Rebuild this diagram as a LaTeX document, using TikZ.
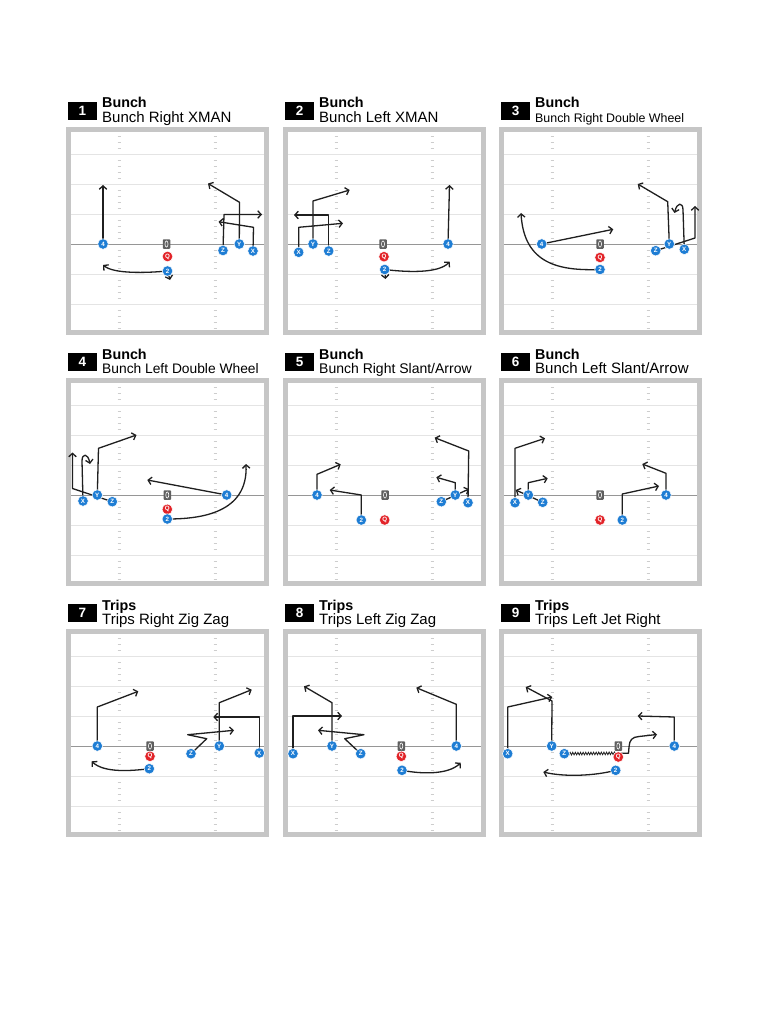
\documentclass[tikz,border=0pt]{standalone}
\usepackage{fontspec}
\setmainfont{Liberation Sans}
\usetikzlibrary{arrows.meta,decorations.pathmorphing}
\definecolor{pblue}{RGB}{30,125,212}
\definecolor{pred}{RGB}{226,35,40}
\definecolor{framegray}{RGB}{198,198,198}
\definecolor{yardgray}{RGB}{228,228,228}
\definecolor{losgray}{RGB}{150,150,150}
\definecolor{hashgray}{RGB}{205,205,205}
\definecolor{ballgray}{RGB}{95,95,95}
\pgfdeclarelayer{bg}\pgfdeclarelayer{rt}\pgfsetlayers{bg,rt,main}
\tikzset{
 pl/.style={circle, fill=pblue, draw=white, line width=0.5pt, inner sep=0pt, minimum size=10.5pt, text=white, font=\fontsize{6.2}{6.2}\selectfont\bfseries},
 qb/.style={pl, fill=pred},
 ball/.style={rectangle, rounded corners=0.8pt, fill=ballgray, minimum width=7.5pt, minimum height=9.5pt, inner sep=0pt, path picture={\draw[white,line width=0.6pt] (path picture bounding box.center) ellipse (1.5pt and 3.1pt);}},
 route/.style={draw=black!88, line width=1.3pt, line join=round, -{Straight Barb[length=3.4pt,width=7.5pt]}},
 motion/.style={draw=black!88, line width=0.8pt, decorate, decoration={zigzag, amplitude=1.3pt, segment length=2.6pt}},
 numbox/.style={fill=black, minimum width=29pt, minimum height=18.5pt, inner sep=0pt, text=white, font=\fontsize{13.5}{13.5}\selectfont\bfseries},
 ttl/.style={anchor=base west, inner sep=0pt, font=\fontsize{14.3}{14.3}\selectfont\bfseries},
 sub/.style={anchor=base west, inner sep=0pt},
}
\newcommand\fieldpanel[7]{%
 \begin{pgfonlayer}{bg}
 \begin{scope}[shift={(#1,#2)}]
  \fill[white] (0,-117) rectangle (203,91);
  \foreach \yy in {-90,-60,-30,30,60}{\draw[yardgray,line width=0.8pt] (5,\yy) -- (198,\yy);}
  \foreach \hx in {53,149}{\foreach \yb in {-120,-90,...,60}{\foreach \yo in {6,12,18,24}{\draw[hashgray,line width=0.5pt] ({\hx-1.5},{\yb+\yo}) -- ({\hx+1.5},{\yb+\yo});}}}
  \draw[losgray,line width=1pt] (5,0) -- (198,0);
  \draw[framegray,line width=5pt] (2.5,-114.5) rectangle (200.5,88.5);
 \end{scope}
 \end{pgfonlayer}
 \begin{scope}[shift={(#1,#2)}]
  \node[numbox] (#7num) at (16.5,-133.2) {#3};
  \node[ttl] (#7ttl) at (36,-136) {#4};
  \node[sub, font=\fontsize{#6}{#6}\selectfont] (#7sub) at (36,-121.6) {#5};
 \end{scope}}
\begin{document}
\begin{tikzpicture}[x=1pt,y=-1pt]
\useasboundingbox (0,0) rectangle (768,1024);
\begin{pgfonlayer}{bg}
\fill[white] (0,0) rectangle (768,1024);
\end{pgfonlayer}
% ---------- Panel 1
\fieldpanel{66}{244}{1}{Bunch}{Bunch Right XMAN}{15}{a}
\begin{scope}[shift={(66,244)}]
 \node[pl] (a4) at (37,0) {4};
 \node[ball] (aC) at (100.5,0) {};
 \node[qb] (aQ) at (101.5,12.5) {Q};
 \node[pl] (a2) at (101.5,27) {2};
 \node[pl] (aZ) at (157,6.5) {Z};
 \node[pl] (aY) at (173.3,0) {Y};
 \node[pl] (aX) at (187,7) {X};
 \begin{pgfonlayer}{rt}
 \draw[route] (a4.center) -- (37,-59);
 \draw[route] (aY.center) -- (173.5,-41.7) -- (142,-60.5);
 \draw[route] (aZ.center) -- (158,-29.5) -- (196,-29.5);
 \draw[route] (aX.center) -- (187.5,-16.7) -- (152.5,-22.3);
 \draw[route] (a2.center) .. controls (80,29) and (48,30) .. (37,21);
 \draw[route] (a2.center) -- (104,36);
 \end{pgfonlayer}
\end{scope}
% ---------- Panel 2
\fieldpanel{283}{244}{2}{Bunch}{Bunch Left XMAN}{15}{b}
\begin{scope}[shift={(283,244)}]
 \node[pl] (bX) at (15.7,8.3) {X};
 \node[pl] (bY) at (30,0) {Y};
 \node[pl] (bZ) at (45.7,7) {Z};
 \node[ball] (bC) at (100,0) {};
 \node[qb] (bQ) at (101,12.7) {Q};
 \node[pl] (b2) at (101.7,25.5) {2};
 \node[pl] (b4) at (165,0) {4};
 \begin{pgfonlayer}{rt}
 \draw[route] (b4.center) -- (166.5,-59);
 \draw[route] (bX.center) -- (15.7,-16.7) -- (60,-20.7);
 \draw[route] (bY.center) -- (30,-43) -- (66.7,-54);
 \draw[route] (bZ.center) -- (45.7,-29) -- (11,-29);
 \draw[route] (b2.center) .. controls (122,28) and (155,30) .. (166.7,17.7);
 \draw[route] (b2.center) -- (102.5,35);
 \end{pgfonlayer}
\end{scope}
% ---------- Panel 3
\fieldpanel{499}{244}{3}{Bunch}{Bunch Right Double Wheel}{12.4}{c}
\begin{scope}[shift={(499,244)}]
 \node[pl] (c4) at (42.7,0) {4};
 \node[ball] (cC) at (101,0) {};
 \node[qb] (cQ) at (101,13.5) {Q};
 \node[pl] (c2) at (101,25.5) {2};
 \node[pl] (cZ) at (156.7,6.7) {Z};
 \node[pl] (cY) at (170.3,0) {Y};
 \node[pl] (cX) at (185.3,5.3) {X};
 \begin{pgfonlayer}{rt}
 \draw[route] (c4.center) -- (114.3,-14.7);
 \draw[route] (c2.center) .. controls (60,27) and (25,20) .. (22,-31);
 \draw[route] (cY.center) -- (168.7,-42.3) -- (138.7,-60);
 \draw[route] (cZ.center) -- (196,-6) -- (196,-38);
 \draw[route] (cX.center) -- (184,-34) .. controls (184,-42) and (178,-42) .. (175.5,-31);
 \end{pgfonlayer}
\end{scope}
% ---------- Panel 4
\fieldpanel{66}{495}{4}{Bunch}{Bunch Left Double Wheel}{13.8}{d}
\begin{scope}[shift={(66,495)}]
 \node[pl] (dX) at (17,6) {X};
 \node[pl] (dY) at (31.3,0) {Y};
 \node[pl] (dZ) at (46.3,6.7) {Z};
 \node[ball] (dC) at (101.3,0) {};
 \node[qb] (dQ) at (101.3,14.3) {Q};
 \node[pl] (d2) at (101.3,24) {2};
 \node[pl] (d4) at (160.7,0) {4};
 \begin{pgfonlayer}{rt}
 \draw[route] (dZ.center) -- (6.5,-6.5) -- (6.5,-42.5);
 \draw[route] (dX.center) -- (16,-34) .. controls (16,-42) and (22,-42) .. (24,-31);
 \draw[route] (dY.center) -- (32.5,-46.7) -- (70.5,-60);
 \draw[route] (d4.center) -- (81.3,-15);
 \draw[route] (d2.center) .. controls (135,24) and (182,18) .. (180,-31);
 \end{pgfonlayer}
\end{scope}
% ---------- Panel 5
\fieldpanel{283}{495}{5}{Bunch}{Bunch Right Slant/Arrow}{14}{e}
\begin{scope}[shift={(283,495)}]
 \node[pl] (e4) at (34,0) {4};
 \node[pl] (e2) at (78.3,25) {2};
 \node[ball] (eC) at (102,0) {};
 \node[qb] (eQ) at (101.7,25) {Q};
 \node[pl] (eZ) at (158.3,6.7) {Z};
 \node[pl] (eY) at (172.3,0) {Y};
 \node[pl] (eX) at (185,7.7) {X};
 \begin{pgfonlayer}{rt}
 \draw[route] (e4.center) -- (34,-20.7) -- (57.7,-30.7);
 \draw[route] (e2.center) -- (78.3,0) -- (46.7,-5);
 \draw[route] (eZ.center) -- (186,-6);
 \draw[route] (eY.center) -- (172.3,-12.3) -- (153.3,-17.7);
 \draw[route] (eX.center) -- (185.7,-44) -- (151.7,-57.3);
 \end{pgfonlayer}
\end{scope}
% ---------- Panel 6
\fieldpanel{499}{495}{6}{Bunch}{Bunch Left Slant/Arrow}{15}{f}
\begin{scope}[shift={(499,495)}]
 \node[pl] (fX) at (16,7.7) {X};
 \node[pl] (fY) at (29.3,0) {Y};
 \node[pl] (fZ) at (43.7,7.3) {Z};
 \node[ball] (fC) at (101,0) {};
 \node[qb] (fQ) at (101,25) {Q};
 \node[pl] (f2) at (123.3,25) {2};
 \node[pl] (f4) at (167,0) {4};
 \begin{pgfonlayer}{rt}
 \draw[route] (fX.center) -- (16,-46.7) -- (46,-56.7);
 \draw[route] (fY.center) -- (29.3,-12.3) -- (48.7,-16.7);
 \draw[route] (fZ.center) -- (16.7,-5);
 \draw[route] (f4.center) -- (167,-21.7) -- (143.3,-31);
 \draw[route] (f2.center) -- (123.3,-1) -- (160,-9);
 \end{pgfonlayer}
\end{scope}
% ---------- Panel 7
\fieldpanel{66}{746}{7}{Trips}{Trips Right Zig Zag}{15}{g}
\begin{scope}[shift={(66,746)}]
 \node[pl] (g4) at (31.3,0) {4};
 \node[ball] (gC) at (84,0) {};
 \node[qb] (gQ) at (84,10.3) {Q};
 \node[pl] (g2) at (83.3,22.7) {2};
 \node[pl] (gZ) at (125,7.7) {Z};
 \node[pl] (gY) at (153.3,0) {Y};
 \node[pl] (gX) at (193.3,7) {X};
 \begin{pgfonlayer}{rt}
 \draw[route] (g4.center) -- (31.3,-39) -- (72.3,-54.7);
 \draw[route] (gY.center) -- (153.3,-43.3) -- (185.7,-56.3);
 \draw[route] (gX.center) -- (193.3,-29) -- (147.3,-29);
 \draw[route] (gZ.center) -- (140.7,-7.3) -- (121.7,-11.3) -- (168,-15.7);
 \draw[route] (g2.center) .. controls (65,25) and (38,27) .. (25.7,15.3);
 \end{pgfonlayer}
\end{scope}
% ---------- Panel 8
\fieldpanel{283}{746}{8}{Trips}{Trips Left Zig Zag}{15}{h}
\begin{scope}[shift={(283,746)}]
 \node[pl] (hX) at (10,7.7) {X};
 \node[pl] (hY) at (49,0) {Y};
 \node[pl] (hZ) at (77.7,7.7) {Z};
 \node[ball] (hC) at (118.3,0) {};
 \node[qb] (hQ) at (118.3,10.3) {Q};
 \node[pl] (h2) at (119,24.3) {2};
 \node[pl] (h4) at (173.3,0) {4};
 \begin{pgfonlayer}{rt}
 \draw[route] (hX.center) -- (10,-30) -- (59,-30);
 \draw[route] (hY.center) -- (49,-43.3) -- (21,-59.7);
 \draw[route] (hZ.center) -- (61.7,-7.3) -- (81,-11.3) -- (35,-15.7);
 \draw[route] (h4.center) -- (173.3,-41.7) -- (133.3,-58.3);
 \draw[route] (h2.center) .. controls (138,28) and (165,29) .. (177.7,16.7);
 \end{pgfonlayer}
\end{scope}
% ---------- Panel 9
\fieldpanel{499}{746}{9}{Trips}{Trips Left Jet Right}{15}{i}
\begin{scope}[shift={(499,746)}]
 \node[pl] (iX) at (8.7,7.7) {X};
 \node[pl] (iY) at (52.7,0) {Y};
 \node[pl] (iZ) at (65.3,7.7) {Z};
 \node[ball] (iC) at (119.3,0) {};
 \node[qb] (iQ) at (119.3,11) {Q};
 \node[pl] (i2) at (116.7,24.3) {2};
 \node[pl] (i4) at (175.3,0) {4};
 \coordinate (im) at (117,7.3);
 \begin{pgfonlayer}{rt}
 \draw[route] (iX.center) -- (8.7,-39) -- (53.3,-49);
 \draw[route] (iY.center) -- (53,-45) -- (26.7,-59);
 \draw[route] (i4.center) -- (175.3,-29) -- (138.7,-30);
 \draw[motion] (iZ.center) -- (im);
 \draw[route] (im) -- (129.5,7.3) -- (130,1) .. controls (130.5,-6) and (133,-9) .. (140,-9.5) -- (158,-11.5);
 \draw[route] (i2.center) .. controls (95,30) and (65,31) .. (44.3,26);
 \end{pgfonlayer}
\end{scope}
\end{tikzpicture}
\end{document}
